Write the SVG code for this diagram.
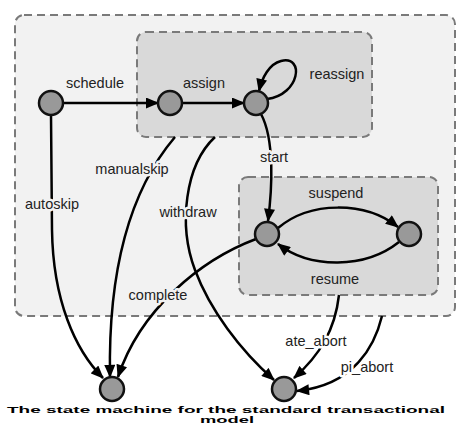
<svg xmlns="http://www.w3.org/2000/svg" width="474" height="432" viewBox="0 0 474 432">
<defs>
<style>
.box{stroke:#7a7a7a;stroke-width:2;stroke-dasharray:8 5}
.node{fill:#999;stroke:#111;stroke-width:2.5}
.edge{fill:none;stroke:#000;stroke-width:2.5;marker-end:url(#ah)}
.lbl{font-family:"Liberation Sans",Arial,sans-serif;font-size:14.5px;fill:#222;text-anchor:middle;paint-order:stroke;stroke-width:5px;stroke-linejoin:round}
.in1{stroke:#f2f2f2}
.in2{stroke:#d9d9d9}
.out{stroke:#fff}
.cap{font-family:"Liberation Sans",Arial,sans-serif;font-weight:bold;font-size:9.5px;fill:#000;text-anchor:middle}
</style>
<marker id="ah" viewBox="0 0 12 10" refX="11" refY="5" markerWidth="14" markerHeight="11" markerUnits="userSpaceOnUse" orient="auto">
<path d="M0,0 L12,5 L0,10 z" fill="#000"/>
</marker>
</defs>
<rect width="474" height="432" fill="#fff"/>
<g id="outer-group"><rect class="box" x="15" y="15" width="440" height="301" rx="9" fill="#f2f2f2"/></g>
<g id="assign-group"><rect class="box" x="137" y="32" width="235" height="105" rx="9" fill="#d9d9d9"/></g>
<g id="run-group"><rect class="box" x="239" y="177" width="199" height="118" rx="9" fill="#d9d9d9"/></g>

<g id="connectors">
<path class="edge" d="M63,103 L158,103"/>
<path class="edge" d="M182,103 L244,103"/>
<path class="edge" d="M267,99 C300,95 305,55 281,61 C269,64 262,78 259,91"/>
<path class="edge" d="M261,114 C275,140 272,190 268,221"/>
<path class="edge" d="M278,228 C310,201 365,201 398,227"/>
<path class="edge" d="M399,242 C365,269 310,269 278,244"/>
<path class="edge" d="M51,115 L52,230 C53,300 75,350 103,378"/>
<path class="edge" d="M175,137 C130,190 108,270 110,377"/>
<path class="edge" d="M215,137 C185,165 178,225 195,270 C210,310 240,350 274,380"/>
<path class="edge" d="M256,239 C200,260 140,310 118,377"/>
<path class="edge" d="M339,295 C335,330 320,355 294,378"/>
<path class="edge" d="M382,316 C375,345 355,385 297,391"/>
</g>

<g id="labels">
<text class="lbl in1" x="95" y="88">schedule</text>
<text class="lbl in2" x="204" y="88">assign</text>
<text class="lbl in2" x="337" y="79">reassign</text>
<text class="lbl in1" x="274" y="162">start</text>
<text class="lbl in2" x="336" y="198">suspend</text>
<text class="lbl in2" x="335" y="284">resume</text>
<text class="lbl in1" x="132" y="174">manualskip</text>
<text class="lbl in1" x="52" y="209">autoskip</text>
<text class="lbl in1" x="188" y="217">withdraw</text>
<text class="lbl in1" x="158" y="300">complete</text>
<text class="lbl out" x="316" y="346">ate_abort</text>
<text class="lbl out" x="367" y="372">pi_abort</text>
</g>

<g id="n-start"><circle class="node" cx="51" cy="103" r="12"/></g>
<g id="n-assign"><circle class="node" cx="170" cy="103" r="12"/></g>
<g id="n-assigned"><circle class="node" cx="256" cy="103" r="12"/></g>
<g id="n-running"><circle class="node" cx="267" cy="234" r="12"/></g>
<g id="n-suspended"><circle class="node" cx="409" cy="234" r="12"/></g>
<g id="n-skipped"><circle class="node" cx="112" cy="389" r="12"/></g>
<g id="n-aborted"><circle class="node" cx="284" cy="389" r="12"/></g>

<g id="caption">
<text class="cap" x="226" y="413" textLength="438" lengthAdjust="spacingAndGlyphs">The state machine for the standard transactional</text>
<text class="cap" x="227" y="423" textLength="54" lengthAdjust="spacingAndGlyphs">model</text>
</g>
</svg>
